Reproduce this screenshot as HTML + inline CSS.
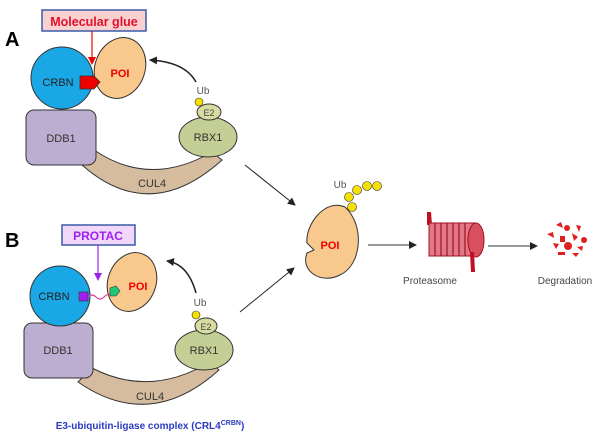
<!DOCTYPE html>
<html><head><meta charset="utf-8"><style>
body{margin:0;background:#fff}
text{font-family:"Liberation Sans",sans-serif}
</style></head><body>
<svg width="600" height="442" viewBox="0 0 600 442" xmlns="http://www.w3.org/2000/svg">
<defs>
<marker id="ah" markerWidth="8" markerHeight="8" refX="7" refY="4" orient="auto" markerUnits="userSpaceOnUse"><path d="M0,0 L8,4 L0,8 z" fill="#222"/></marker>
<marker id="ar" markerWidth="8" markerHeight="8" refX="7" refY="4" orient="auto" markerUnits="userSpaceOnUse"><path d="M0,0 L8,4 L0,8 z" fill="#e00"/></marker>
<marker id="ap" markerWidth="8" markerHeight="8" refX="7" refY="4" orient="auto" markerUnits="userSpaceOnUse"><path d="M0,0 L8,4 L0,8 z" fill="#a020f0"/></marker>
</defs>

<!-- Panel A -->
<text x="5" y="46" font-size="20" font-weight="bold">A</text>
<rect x="42" y="10" width="104" height="21" fill="#f9d0d0" stroke="#3b5aa8" stroke-width="1.5"/>
<text x="94" y="26" font-size="12.5" font-weight="bold" fill="#e0102a" text-anchor="middle">Molecular glue</text>
<line x1="92" y1="31" x2="92" y2="64" stroke="#e00" stroke-width="1.2" marker-end="url(#ar)"/>
<path d="M82,165 Q150,225 222,160 L212,152 Q150,188 94,150 z" fill="#d6bc9e" stroke="#333"/>
<text x="152" y="187" font-size="11" text-anchor="middle" fill="#333">CUL4</text>
<rect x="26" y="110" width="70" height="55" rx="8" fill="#bcaed0" stroke="#333"/>
<text x="61" y="142" font-size="11" text-anchor="middle" fill="#333">DDB1</text>
<circle cx="62" cy="78" r="31" fill="#1aa7e6" stroke="#333"/>
<text x="58" y="86" font-size="11" text-anchor="middle" fill="#222">CRBN</text>
<ellipse cx="120" cy="68" rx="25" ry="31" transform="rotate(20 120 68)" fill="#f9c88c" stroke="#333"/>
<text x="120" y="77" font-size="11" font-weight="bold" fill="#e00" text-anchor="middle">POI</text>
<path d="M80,76 L94,76 L100,82 L94,89 L80,89 z" fill="#e00" stroke="#333" stroke-width="0.8"/>
<ellipse cx="208" cy="137" rx="29" ry="20" fill="#c3cf95" stroke="#333"/>
<text x="208" y="141" font-size="11" text-anchor="middle" fill="#333">RBX1</text>
<ellipse cx="209" cy="112" rx="12" ry="8" fill="#d8dca0" stroke="#333"/>
<text x="209" y="116" font-size="9" text-anchor="middle" fill="#444">E2</text>
<circle cx="199" cy="102" r="4" fill="#f5e000" stroke="#333" stroke-width="0.6"/>
<text x="203" y="94" font-size="10" text-anchor="middle" fill="#555">Ub</text>
<path d="M196,82 Q185,62 150,60" fill="none" stroke="#222" stroke-width="1.5" marker-end="url(#ah)"/>
<line x1="245" y1="165" x2="295" y2="205" stroke="#222" stroke-width="1" marker-end="url(#ah)"/>

<!-- Panel B -->
<text x="5" y="247" font-size="20" font-weight="bold">B</text>
<rect x="62" y="225" width="73" height="20" fill="#f2d8f8" stroke="#3b5aa8" stroke-width="1.5"/>
<text x="98" y="240" font-size="12" font-weight="bold" fill="#a020f0" text-anchor="middle">PROTAC</text>
<line x1="98" y1="245" x2="98" y2="280" stroke="#a020f0" stroke-width="1.2" marker-end="url(#ap)"/>
<path d="M78,382 Q150,432 219,370 L210,362 Q150,398 92,368 z" fill="#d6bc9e" stroke="#333"/>
<text x="150" y="400" font-size="11" text-anchor="middle" fill="#333">CUL4</text>
<rect x="24" y="323" width="69" height="55" rx="8" fill="#bcaed0" stroke="#333"/>
<text x="58" y="354" font-size="11" text-anchor="middle" fill="#333">DDB1</text>
<circle cx="60" cy="296" r="30" fill="#1aa7e6" stroke="#333"/>
<text x="54" y="300" font-size="11" text-anchor="middle" fill="#222">CRBN</text>
<ellipse cx="132" cy="282" rx="24" ry="30" transform="rotate(20 132 282)" fill="#f9c88c" stroke="#333"/>
<text x="138" y="290" font-size="11" font-weight="bold" fill="#e00" text-anchor="middle">POI</text>
<rect x="79" y="292" width="9" height="9" fill="#a020f0" stroke="#333" stroke-width="0.6"/>
<path d="M88,297 q4,-4 8,0 t8,0 t8,-2" fill="none" stroke="#e040a0" stroke-width="1.2"/>
<path d="M110,288 L116,286 L120,291 L116,296 L110,296 z" fill="#1ec878" stroke="#333" stroke-width="0.6"/>
<ellipse cx="204" cy="350" rx="29" ry="20" fill="#c3cf95" stroke="#333"/>
<text x="204" y="354" font-size="11" text-anchor="middle" fill="#333">RBX1</text>
<ellipse cx="206" cy="326" rx="11" ry="8" fill="#d8dca0" stroke="#333"/>
<text x="206" y="330" font-size="9" text-anchor="middle" fill="#444">E2</text>
<circle cx="196" cy="315" r="4" fill="#f5e000" stroke="#333" stroke-width="0.6"/>
<text x="200" y="306" font-size="10" text-anchor="middle" fill="#555">Ub</text>
<path d="M196,293 Q188,264 167,261" fill="none" stroke="#222" stroke-width="1.5" marker-end="url(#ah)"/>
<line x1="240" y1="312" x2="294" y2="268" stroke="#222" stroke-width="1" marker-end="url(#ah)"/>
<text x="150" y="429" font-size="10" font-weight="bold" fill="#2a3bc0" text-anchor="middle">E3-ubiquitin-ligase complex (CRL4<tspan font-size="7" dy="-4">CRBN</tspan><tspan dy="4">)</tspan></text>

<!-- Middle POI -->
<path d="M345,207 C365,225 362,265 340,275 C320,285 300,270 307,253 L314,250 L307,243 C305,225 325,198 345,207 z" fill="#f9c88c" stroke="#333"/>
<text x="330" y="249" font-size="11" font-weight="bold" fill="#e00" text-anchor="middle">POI</text>
<circle cx="352" cy="207" r="4.5" fill="#f5e000" stroke="#333" stroke-width="0.6"/>
<circle cx="349" cy="197" r="4.5" fill="#f5e000" stroke="#333" stroke-width="0.6"/>
<circle cx="357" cy="190" r="4.5" fill="#f5e000" stroke="#333" stroke-width="0.6"/>
<circle cx="367" cy="186" r="4.5" fill="#f5e000" stroke="#333" stroke-width="0.6"/>
<circle cx="377" cy="186" r="4.5" fill="#f5e000" stroke="#333" stroke-width="0.6"/>
<text x="340" y="188" font-size="10" text-anchor="middle" fill="#555">Ub</text>
<line x1="368" y1="245" x2="416" y2="245" stroke="#333" stroke-width="1" marker-end="url(#ah)"/>

<!-- Proteasome -->
<path d="M427,212 L431,212 L432,225 L427,225 z" fill="#c01020"/>
<rect x="429" y="223" width="47" height="33" fill="#e07888" stroke="#a01020"/>
<g stroke="#a01020" stroke-width="1.2">
<line x1="435" y1="223" x2="435" y2="256"/><line x1="441" y1="223" x2="441" y2="256"/>
<line x1="447" y1="223" x2="447" y2="256"/><line x1="453" y1="223" x2="453" y2="256"/>
<line x1="459" y1="223" x2="459" y2="256"/><line x1="465" y1="223" x2="465" y2="256"/>
</g>
<ellipse cx="476" cy="240" rx="8" ry="17" fill="#d85060" stroke="#a01020"/>
<path d="M470,252 L474,252 L475,272 L471,272 z" fill="#c01020"/>
<text x="430" y="284" font-size="10" text-anchor="middle" fill="#444">Proteasome</text>
<line x1="488" y1="246" x2="537" y2="246" stroke="#333" stroke-width="1" marker-end="url(#ah)"/>

<!-- Degradation -->
<g fill="#e02020">
<path d="M556,225 l5,-3 l2,6 z"/><circle cx="567" cy="228" r="3"/><path d="M576,225 l5,1 l-2,6 z"/>
<path d="M547,234 l6,-2 l1,6 z"/><rect x="560" y="236" width="5" height="6"/><path d="M572,233 l6,4 l-4,4 z"/>
<circle cx="584" cy="240" r="3"/><path d="M553,243 l6,1 l-3,5 z"/><circle cx="568" cy="246" r="4"/>
<path d="M577,247 l6,-1 l-1,5 z"/><path d="M558,252 h7 v3 h-7 z"/><path d="M572,253 l7,0 l-3,4 z"/>
</g>
<text x="565" y="284" font-size="10" text-anchor="middle" fill="#444">Degradation</text>
</svg>
</body></html>
